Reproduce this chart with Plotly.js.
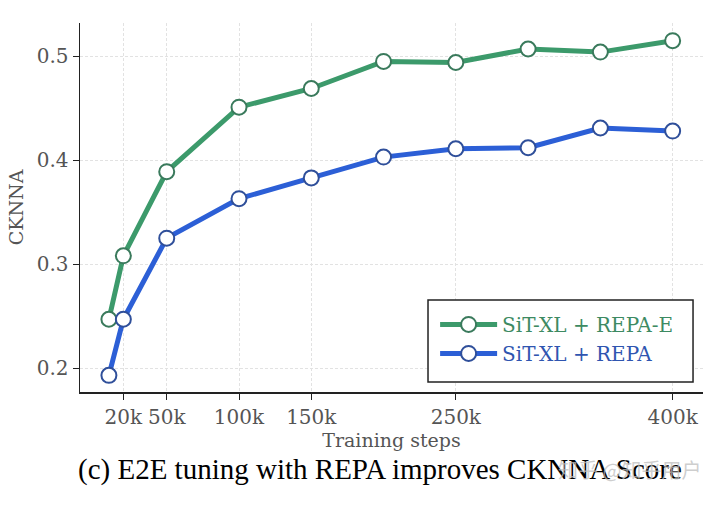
<!DOCTYPE html>
<html>
<head>
<meta charset="utf-8">
<script src="https://cdn.plot.ly/plotly-3.0.1.min.js"></script>
<style>html,body{margin:0;padding:0;background:#fff;}#chart{width:721px;height:505px;}</style>
</head>
<body>
<div id="chart"></div>
<script>
const steps = [10000, 20000, 50000, 100000, 150000, 200000, 250000, 300000, 350000, 400000];
const repaE = [0.247, 0.308, 0.389, 0.451, 0.469, 0.495, 0.494, 0.507, 0.504, 0.515];
const repa = [0.193, 0.247, 0.325, 0.363, 0.383, 0.403, 0.411, 0.412, 0.431, 0.428];
const tickVals = [20000, 50000, 100000, 150000, 250000, 400000];
const tickText = ['20k', '50k', '100k', '150k', '250k', '400k'];
const seriesNames = ['SiT-XL + REPA-E', 'SiT-XL + REPA'];

const green = '#3c9a6b';
const blue = '#2c5fd6';
const serif = 'DejaVu Serif, serif';

const traces = [
  {x: steps, y: repaE, name: seriesNames[0], mode: 'lines+markers',
   line: {color: green, width: 5},
   marker: {size: 15, color: '#ffffff', line: {color: '#3a7a5c', width: 2}}},
  {x: steps, y: repa, name: seriesNames[1], mode: 'lines+markers',
   line: {color: blue, width: 5},
   marker: {size: 15, color: '#ffffff', line: {color: '#2f4f9a', width: 2}}}
];

const layout = {
  width: 721, height: 505,
  margin: {l: 80, r: 18, t: 23, b: 113},
  paper_bgcolor: '#fff', plot_bgcolor: '#fff',
  showlegend: true,
  legend: {x: 0.570, y: 0.236, xanchor: 'left', yanchor: 'top',
    bgcolor: 'rgba(0,0,0,0)', borderwidth: 0, itemwidth: 57,
    font: {family: serif, size: 20, color: '#333'}, tracegroupgap: 2},
  shapes: [
    {type: 'rect', xref: 'paper', yref: 'paper', x0: 0.5586, x1: 0.984, y0: 0.027, y1: 0.249,
     fillcolor: '#ffffff', line: {color: '#222', width: 1.5}, layer: 'above'}
  ],
  xaxis: {range: [-10000, 421000], tickvals: tickVals, ticktext: tickText,
    showgrid: true, gridcolor: '#e2e2e2', griddash: '3px,2px', gridwidth: 1,
    zeroline: false, showline: true, linecolor: '#222', linewidth: 1.5,
    ticks: 'outside', ticklen: 6, tickcolor: '#222',
    tickfont: {family: serif, size: 20, color: '#555'},
    title: {text: 'Training steps', font: {family: serif, size: 19, color: '#555'}, standoff: 6}},
  yaxis: {range: [0.177, 0.532], tickvals: [0.2, 0.3, 0.4, 0.5], ticktext: ['0.2', '0.3', '0.4', '0.5'],
    showgrid: true, gridcolor: '#e2e2e2', griddash: '3px,2px', gridwidth: 1,
    zeroline: false, showline: true, linecolor: '#222', linewidth: 1.5,
    ticks: 'outside', ticklen: 6, tickcolor: '#222',
    tickfont: {family: serif, size: 20, color: '#555'},
    title: {text: 'CKNNA', font: {family: serif, size: 19, color: '#555'}, standoff: 8}},
  annotations: [
    {text: '(c) E2E tuning with REPA improves CKNNA Score', xref: 'paper', yref: 'paper',
     x: 0.482, y: -0.211, xanchor: 'center', yanchor: 'middle', showarrow: false,
     font: {family: 'Liberation Serif, serif', size: 29, color: '#000'}},
    {text: '知乎 @知乎用户', xref: 'paper', yref: 'paper',
     x: 1.0, y: -0.211, xanchor: 'right', yanchor: 'middle', showarrow: false,
     font: {family: 'Noto Sans CJK SC, sans-serif', size: 20, color: 'rgba(190,190,190,0.75)'}}
  ]
};

Plotly.newPlot('chart', traces, layout, {displayModeBar: false, staticPlot: true}).then(() => {
  const texts = document.querySelectorAll('.legendtext');
  const cols = ['#3d8a62', '#2f55b0'];
  texts.forEach((t, i) => { t.style.fill = cols[i]; });
});
</script>
</body>
</html>
